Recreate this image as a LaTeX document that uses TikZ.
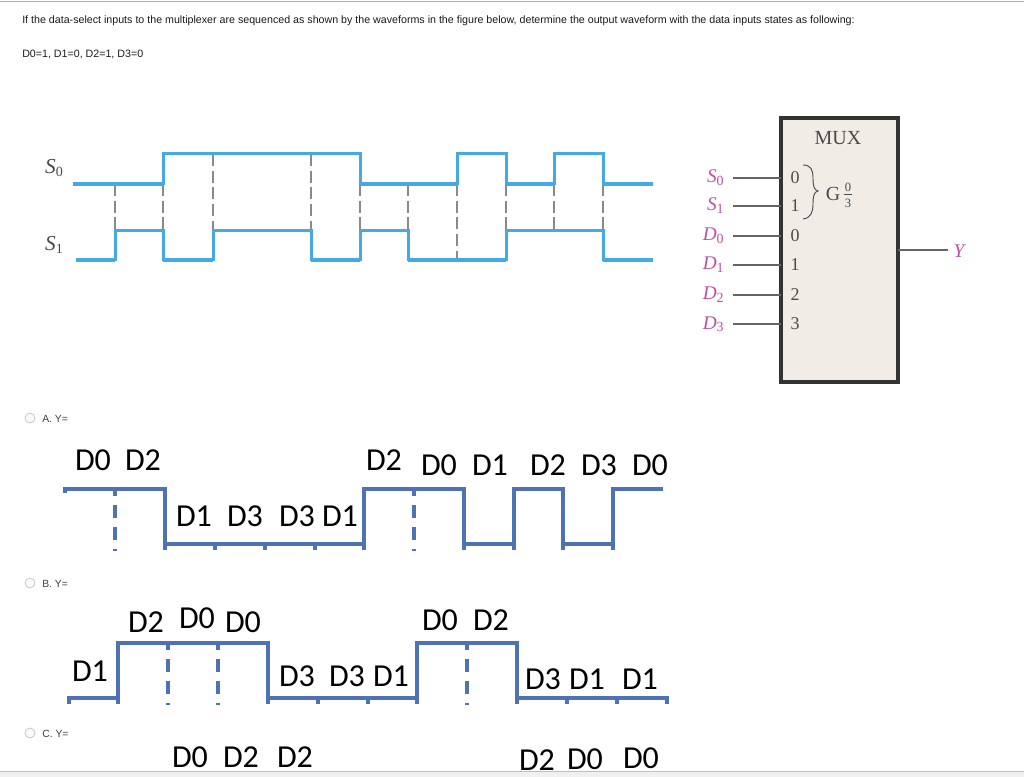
\documentclass[tikz,border=0pt]{standalone}
\usepackage{fontspec}
\setmainfont{Liberation Sans}
\newfontfamily\calfnt{Carlito}
\newfontfamily\srffnt{Liberation Serif}
\definecolor{wblue}{HTML}{45A9E4}
\definecolor{ablue}{HTML}{4F71B5}
\definecolor{dgray}{HTML}{8A8A8A}
\definecolor{muxfill}{HTML}{F1EDE6}
\definecolor{pinkl}{HTML}{C24FA4}
\definecolor{ink}{HTML}{4A4A4A}
\tikzset{
  wave/.style={draw=wblue,line width=2.25pt,line join=miter},
  wavelow/.style={draw=wblue,line width=3pt},
  guide/.style={draw=dgray,line width=1pt,dash pattern=on 9pt off 3.5pt},
  ans/.style={draw=ablue,line width=2.5pt,line join=miter},
  ansdash/.style={draw=ablue,line width=2.5pt,dash pattern=on 9.75pt off 6.75pt,dash phase=4.5pt},
  dl/.style={font=\calfnt\fontsize{24}{24}\selectfont,text=black,inner sep=0pt},
  head/.style={font=\fontsize{8}{10}\selectfont,text=black!90,anchor=base west,inner sep=0pt},
  opt/.style={font=\fontsize{7.8}{10}\selectfont,text=black!75,anchor=base west,inner sep=0pt},
  radio/.style={circle,draw=black!22,fill=black!2,line width=.6pt,minimum size=7.5pt,inner sep=0pt},
  sl/.style={font=\srffnt\itshape\fontsize{16}{16}\selectfont,text=ink,inner sep=0pt},
  pl/.style={font=\srffnt\itshape\fontsize{14.5}{15}\selectfont,text=pinkl,inner sep=0pt,anchor=base east},
  num/.style={font=\srffnt\fontsize{13.5}{14}\selectfont,text=ink,inner sep=0pt},
  wire/.style={draw=ink!85,line width=1pt},
}
\newcommand{\subn}[1]{\raisebox{-2pt}{\fontsize{10.5}{11}\selectfont\upshape #1}}
\begin{document}
\begin{tikzpicture}[x=0.75pt,y=-0.75pt]
\useasboundingbox (0,0) rectangle (1024,777);
% page furniture
\fill[black!6] (0,771) rectangle (1024,777);
\draw[black!25,line width=.7pt] (0,771) -- (1024,771);
\draw[black!30,line width=.7pt] (0,1) -- (1024,1);
% question text
\node[head] (q1) at (22,24) {If the data-select inputs to the multiplexer are sequenced as shown by the waveforms in the figure below, determine the output waveform with the data inputs states as following:};
\node[head] (q2) at (22,58) {D0=1, D1=0, D2=1, D3=0};
% guides
\draw[guide] (115,184) -- (115,231);
\draw[guide] (163,184) -- (163,231);
\draw[guide] (213,154) -- (213,231);
\draw[guide] (311,154) -- (311,231);
\draw[guide] (360,184) -- (360,231);
\draw[guide] (408,184) -- (408,231);
\draw[guide] (457,184) -- (457,260);
\draw[guide] (506,184) -- (506,231);
\draw[guide] (554,184) -- (554,231);
\draw[guide] (603,184) -- (603,231);
% S0
\draw[wave] (73,184) -- (163,184) -- (163,154) -- (360,154) -- (360,184) -- (457,184) -- (457,154) -- (506,154) -- (506,184) -- (554,184) -- (554,154) -- (603,154) -- (603,184) -- (653,184);
\draw[wavelow] (73,184) -- (163,184) (360,184) -- (457,184) (506,184) -- (554,184) (603,184) -- (653,184);
% S1
\draw[wave] (76,260) -- (115,260) -- (115,231) -- (163,231) -- (163,260) -- (213,260) -- (213,231) -- (311,231) -- (311,260) -- (360,260) -- (360,231) -- (408,231) -- (408,260) -- (506,260) -- (506,231) -- (603,231) -- (603,260) -- (653,260);
\draw[wavelow] (76,260) -- (115,260) (163,260) -- (213,260) (311,260) -- (360,260) (408,260) -- (506,260) (603,260) -- (653,260);
\node[sl] (ls0) at (54,168) {S\subn{0}};
\node[sl] (ls1) at (54,245) {S\subn{1}};
% MUX
\node[draw=black!80,fill=muxfill,line width=2.6pt,outer sep=0pt,minimum width=87.75pt,minimum height=198pt,inner sep=0pt,anchor=north west] (box) at (781,118) {};
\node[font=\srffnt\fontsize{15}{16}\selectfont,text=ink,inner sep=0pt] (muxt) at (838,138) {MUX};
\foreach \nm/\yy/\dg/\lab in {a/178/0/S\subn{0},b/206/1/S\subn{1},c/236/0/D\subn{0},d/265/1/D\subn{1},e/295/2/D\subn{2},f/324/3/D\subn{3}}{
  \coordinate (w\nm) at (733,\yy);
  \node[pl] (p\nm) at (724,\yy+5) {\lab};
  \node[num] (n\nm) at (795,\yy) {\dg};
  \draw[wire] (w\nm) -- (w\nm -| box.west);
}
\coordinate (yend) at (948,250);
\draw[wire] (yend -| box.east) -- (yend);
\node[pl,anchor=center] (yl) at (959,251) {Y};
\draw[draw=ink,line width=.7pt] (803,165) .. controls (811,165) and (813,170) .. (813,178) .. controls (813,186) and (814,190) .. (818,191) .. controls (814,192) and (813,196) .. (813,204) .. controls (813,212) and (811,218) .. (803,219);
\node[font=\srffnt\fontsize{15}{16}\selectfont,text=ink,inner sep=0pt] (gl) at (833,194) {G};
\node[font=\srffnt\fontsize{9.5}{10}\selectfont,text=ink,inner sep=0pt] (g0) at (848,187) {0};
\node[font=\srffnt\fontsize{9.5}{10}\selectfont,text=ink,inner sep=0pt] (g3) at (848,203) {3};
\draw[draw=ink,line width=.7pt] (844,194.5) -- (852,194.5);
% options
\node[radio] (ra) at (30,418) {};
\node[opt] (oa) at (42,422) {A. Y=};
\node[radio] (rb) at (30,583) {};
\node[opt] (ob) at (42,587) {B. Y=};
\node[radio] (rc) at (30,733) {};
\node[opt] (oc) at (42,737) {C. Y=};
% Wave A
\draw[ans] (65,493) -- (65,489) -- (165,489) -- (165,544) -- (364,544) -- (364,489) -- (464,489) -- (464,544) -- (514,544) -- (514,489) -- (563,489) -- (563,544) -- (613,544) -- (613,489) -- (663,489);
\draw[ans] (165,544) -- (165,550) (215,544) -- (215,550) (265,544) -- (265,550) (315,544) -- (315,550) (364,544) -- (364,550) (464,544) -- (464,550) (514,544) -- (514,550) (563,544) -- (563,550) (613,544) -- (613,550);
\draw[ansdash] (115,489) -- (115,551);
\draw[ansdash] (414,489) -- (414,551);
\foreach \nm/\xx/\yy/\lab in {a1/93/460/D0,a2/143/460/D2,a3/194/516/D1,a4/245/516/D3,a5/297/516/D3,a6/340/516/D1,a7/384/460/D2,a8/439/465/D0,a9/490/465/D1,a10/548/465/D2,a11/599/465/D3,a12/650/465/D0}{
  \node[dl] (\nm) at (\xx,\yy) {\lab};
}
% Wave B
\draw[ans] (69,704) -- (69,698) -- (118,698) -- (118,643) -- (268,643) -- (268,698) -- (417,698) -- (417,643) -- (517,643) -- (517,698) -- (667,698) -- (667,704);
\draw[ans] (118,698) -- (118,704) (268,698) -- (268,704) (318,698) -- (318,704) (368,698) -- (368,704) (417,698) -- (417,704) (517,698) -- (517,704) (567,698) -- (567,704) (617,698) -- (617,704);
\draw[ansdash] (168,643) -- (168,705);
\draw[ansdash] (218,643) -- (218,705);
\draw[ansdash] (467,643) -- (467,705);
\foreach \nm/\xx/\yy/\lab in {b1/146/622/D2,b2/197/618/D0,b3/243/622/D0,b4/90/671/D1,b5/297/676/D3,b6/347/676/D3,b7/391/676/D1,b8/440/620/D0,b9/491/620/D2,b10/543/679/D3,b11/587/679/D1,b12/640/679/D1}{
  \node[dl] (\nm) at (\xx,\yy) {\lab};
}
% Wave C labels
\foreach \nm/\xx/\yy/\lab in {c1/190/757/D0,c2/241/757/D2,c3/295/757/D2,c4/537/760/D2,c5/585/759/D0,c6/641/758/D0}{
  \node[dl] (\nm) at (\xx,\yy) {\lab};
}
\end{tikzpicture}
\end{document}
